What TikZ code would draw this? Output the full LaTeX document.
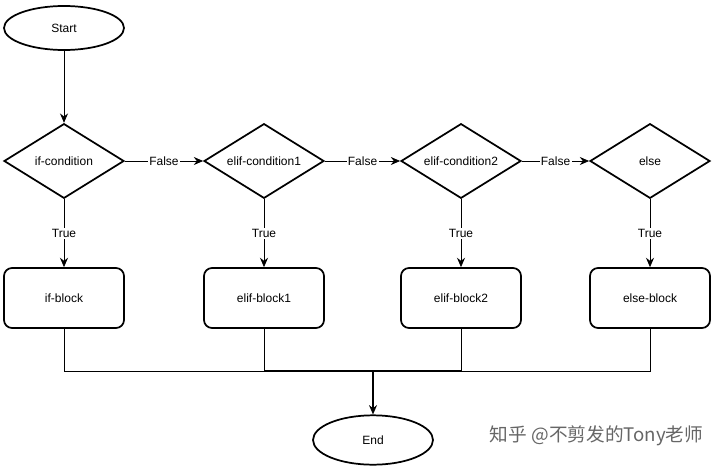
\documentclass[tikz,border=0pt]{standalone}
\usepackage{fontspec}
\setmainfont{Liberation Sans}
\newfontfamily\cjk{Noto Sans CJK SC}
\usetikzlibrary{shapes.geometric,arrows.meta}
\begin{document}
\begin{tikzpicture}[x=0.75pt,y=-0.75pt,font=\fontsize{9}{11}\selectfont,
  base/.style={draw,line width=1.3pt,align=center},
  term/.style={base,ellipse,minimum width=90pt,minimum height=33pt},
  term2/.style={base,ellipse,minimum width=90pt,minimum height=37pt},
  dec/.style={base,diamond,minimum width=90pt,minimum height=56pt,inner sep=0pt,aspect=1.6},
  blk/.style={base,rounded corners=6pt,minimum width=90pt,minimum height=45pt},
  arr/.style={-{Stealth[length=7pt,width=6pt]},line width=0.6pt},
  ln/.style={line width=0.6pt},
  lab/.style={fill=white,inner sep=1pt}]
\useasboundingbox (0,0) rectangle (716,467);
\node[term] (start) at (64,28) {Start};
\node[dec,minimum width=90pt] (c0) at (64,161) {if-condition};
\node[dec] (c1) at (264,161) {elif-condition1};
\node[dec] (c2) at (461,161) {elif-condition2};
\node[dec] (c3) at (650,161) {else};
\node[blk] (b0) at (64,298) {if-block};
\node[blk] (b1) at (264,298) {elif-block1};
\node[blk] (b2) at (461,298) {elif-block2};
\node[blk] (b3) at (650,298) {else-block};
\node[term2] (end) at (373,440) {End};
\coordinate (j) at (373,371);
\draw[arr] (start) -- (c0);
\foreach \a/\b in {c0/c1,c1/c2,c2/c3}
  \draw[arr] (\a.east) -- node[lab]{False} (\b.west);
\foreach \i in {0,...,3}
  \draw[arr] (c\i.south) -- node[lab]{True} (b\i.north);
\draw[ln] (b0.south) |- (j);
\draw[ln] (b3.south) |- (j);
\draw[ln] (b1.south) -- (b1.south |- j);
\draw[ln] (b2.south) -- (b2.south |- j);
\draw[line width=1.1pt] (b1.south |- j) -- (b2.south |- j);
\draw[arr,line width=1.1pt] (j) -- (end);
\node[anchor=east,text=gray!80!black,font=\cjk\fontsize{14}{16}\selectfont] (wm) at (708,436) {知乎 @不剪发的Tony老师};
\end{tikzpicture}
\end{document}
